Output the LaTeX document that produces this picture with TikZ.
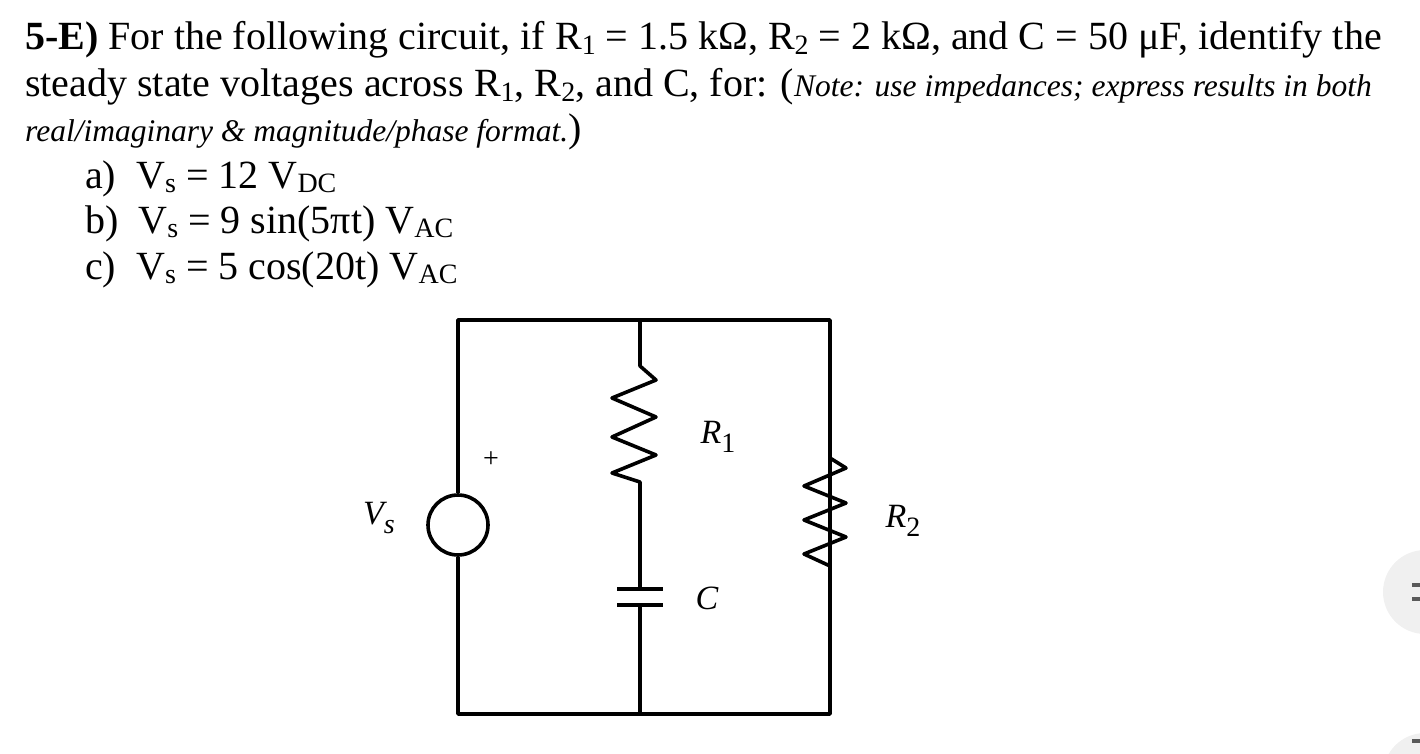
\documentclass[tikz,border=0pt]{standalone}
\usepackage{fontspec}
\setmainfont{Liberation Serif}
\newcommand{\sbs}[1]{\raisebox{-0.12em}{\fontsize{28}{28}\selectfont #1}}
\begin{document}
\begin{tikzpicture}[x=1pt,y=-1pt,
  wire/.style={line width=3.6pt,line join=round},
  lbl/.style={font=\fontsize{34}{34}\selectfont\itshape,inner sep=0pt},
  txt/.style={anchor=base west,inner sep=0pt,font=\fontsize{40}{40}\selectfont}]
\useasboundingbox (0,0) rectangle (1420,754);
% text
\node[txt] (l1) at (25,50) {\textbf{5-E)} For the following circuit, if R\sbs{1} = 1.5 kΩ, R\sbs{2} = 2 kΩ, and C = 50 μF, identify the};
\node[txt] (l2) at (25,97) {steady state voltages across R\sbs{1}, R\sbs{2}, and C, for: (\fontsize{31.5}{31.5}\selectfont\itshape Note: use impedances; express results in both\upshape\fontsize{40}{40}\selectfont};
\node[txt] (l3) at (25,142) {\fontsize{31.5}{31.5}\selectfont\itshape real/imaginary \& magnitude/phase format.\upshape\fontsize{40}{40}\selectfont)};
\node[txt] (a) at (85,188) {a)\ \ V\sbs{s} = 12 V\sbs{DC}};
\node[txt] (b) at (85,233) {b)\ \ V\sbs{s} = 9 sin(5πt) V\sbs{AC}};
\node[txt] (c) at (85,279) {c)\ \ V\sbs{s} = 5 cos(20t) V\sbs{AC}};
% circuit
\coordinate (TL) at (458,320); \coordinate (TR) at (830,320);
\coordinate (BL) at (458,714); \coordinate (BR) at (830,714);
\coordinate (TM) at (640,320); \coordinate (BM) at (640,714);
\node[draw,circle,line width=3.6pt,minimum size=60pt,inner sep=0pt] (vs) at (458,525) {};
\draw[wire] (vs.south) -- (BL) -- (BR) -- (TR) -- (TL) -- (vs.north);
\draw[wire] (TM) -- (640,366) -- (656,380) -- (612,398) -- (656,417) -- (612,437) -- (656,455) -- (612,473) -- (640,482) -- (640,589);
\draw[wire] (617,589) -- (663,589);
\draw[wire] (617,605) -- (663,605);
\draw[wire] (640,605) -- (BM);
\draw[wire] (830,320) -- (830,458) -- (846,468) -- (804,486) -- (846,503) -- (804,520) -- (846,537) -- (804,554) -- (830,566) -- (830,714);
\node[lbl] (r1) at (718,437) {R\raisebox{-0.25em}{\upshape\fontsize{28}{28}\selectfont 1}};
\node[lbl] (r2) at (903,521) {R\raisebox{-0.25em}{\upshape\fontsize{28}{28}\selectfont 2}};
\node[lbl] (cl) at (707,598) {C};
\node[lbl] (vl) at (379,518) {V\raisebox{-0.25em}{\fontsize{28}{28}\selectfont s}};
\node[inner sep=0pt,font=\fontsize{28}{28}\selectfont] (pl) at (491,460) {+};
% side buttons
\fill[gray!12] (1425,592) circle (42);
\fill[gray!12] (1425,775) circle (42);
\fill[gray!70!black] (1412,583) rectangle (1420,587);
\fill[gray!70!black] (1412,597) rectangle (1420,601);
\fill[gray!70!black] (1412,739) rectangle (1420,743);
\end{tikzpicture}
\end{document}
